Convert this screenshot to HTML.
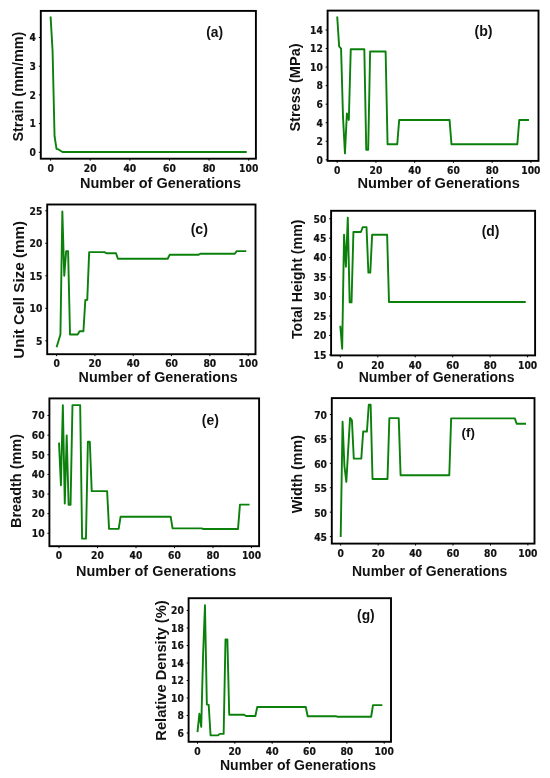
<!DOCTYPE html>
<html lang="en"><head><meta charset="utf-8"><title>Optimization history over generations</title>
<style>
html,body{margin:0;padding:0;background:#fff;}
body{width:550px;height:778px;overflow:hidden;}
svg{display:block;}
.tk{font-family:"DejaVu Sans","Liberation Sans",sans-serif;font-weight:bold;font-size:10.3px;fill:#111;stroke:#111;stroke-width:.2px;}
.lb{font-family:"Liberation Sans",Arial,sans-serif;font-weight:bold;fill:#111;}
.fr{fill:none;stroke:#000;stroke-width:1.9;}
.tm{stroke:#000;stroke-width:1;}
.ln{fill:none;stroke:#0b800b;stroke-width:1.9;stroke-linejoin:round;stroke-linecap:butt;}
</style></head><body>
<svg width="550" height="778" viewBox="0 0 550 778">
<rect x="0" y="0" width="550" height="778" fill="#ffffff"/>
<g id="panel-a">
<polyline class="ln" points="50.6,16.55 52.58,50.99 54.56,136.23 56.54,148.86 58.52,149.43 60.51,150.72 62.49,151.96 246.72,152.07"/>
<rect class="fr" x="40.8" y="10.9" width="215.1" height="147.8"/>
<line class="tm" x1="50.6" y1="158.7" x2="50.6" y2="160.65"/>
<text class="tk" x="47.4" y="171.9" textLength="6.4" lengthAdjust="spacingAndGlyphs">0</text>
<line class="tm" x1="90.22" y1="158.7" x2="90.22" y2="160.65"/>
<text class="tk" x="83.82" y="171.9" textLength="12.8" lengthAdjust="spacingAndGlyphs">20</text>
<line class="tm" x1="129.84" y1="158.7" x2="129.84" y2="160.65"/>
<text class="tk" x="123.44" y="171.9" textLength="12.8" lengthAdjust="spacingAndGlyphs">40</text>
<line class="tm" x1="169.46" y1="158.7" x2="169.46" y2="160.65"/>
<text class="tk" x="163.06" y="171.9" textLength="12.8" lengthAdjust="spacingAndGlyphs">60</text>
<line class="tm" x1="209.08" y1="158.7" x2="209.08" y2="160.65"/>
<text class="tk" x="202.68" y="171.9" textLength="12.8" lengthAdjust="spacingAndGlyphs">80</text>
<line class="tm" x1="248.7" y1="158.7" x2="248.7" y2="160.65"/>
<text class="tk" x="239.1" y="171.9" textLength="19.2" lengthAdjust="spacingAndGlyphs">100</text>
<line class="tm" x1="38.85" y1="152.3" x2="40.8" y2="152.3"/>
<text class="tk" x="29.6" y="156.1" textLength="6.4" lengthAdjust="spacingAndGlyphs">0</text>
<line class="tm" x1="38.85" y1="123.6" x2="40.8" y2="123.6"/>
<text class="tk" x="29.6" y="127.4" textLength="6.4" lengthAdjust="spacingAndGlyphs">1</text>
<line class="tm" x1="38.85" y1="94.9" x2="40.8" y2="94.9"/>
<text class="tk" x="29.6" y="98.7" textLength="6.4" lengthAdjust="spacingAndGlyphs">2</text>
<line class="tm" x1="38.85" y1="66.2" x2="40.8" y2="66.2"/>
<text class="tk" x="29.6" y="70" textLength="6.4" lengthAdjust="spacingAndGlyphs">3</text>
<line class="tm" x1="38.85" y1="37.5" x2="40.8" y2="37.5"/>
<text class="tk" x="29.6" y="41.3" textLength="6.4" lengthAdjust="spacingAndGlyphs">4</text>
<text class="lb" x="80" y="187.5" font-size="14.4" textLength="161" lengthAdjust="spacingAndGlyphs">Number of Generations</text>
<text class="lb" transform="translate(22.9,141.6) rotate(-90)" font-size="14.4" textLength="110" lengthAdjust="spacingAndGlyphs">Strain (mm/mm)</text>
<text class="lb" x="214.7" y="36.7" text-anchor="middle" font-size="13.8">(a)</text>
</g>
<g id="panel-b">
<polyline class="ln" points="337.2,16.49 339.14,46.43 341.07,48.56 343.01,117.16 344.95,153.4 346.88,113.45 348.82,119.94 350.76,49.3 364.32,49.3 366.25,149.7 368.19,149.7 370.13,51.43 385.62,51.43 387.56,144.23 397.25,144.23 399.18,119.94 449.55,119.94 451.48,144.23 517.34,144.23 519.28,119.94 528.96,119.94"/>
<rect class="fr" x="327.6" y="10.6" width="210.9" height="150.3"/>
<line class="tm" x1="337.2" y1="160.9" x2="337.2" y2="162.85"/>
<text class="tk" x="334" y="174.1" textLength="6.4" lengthAdjust="spacingAndGlyphs">0</text>
<line class="tm" x1="375.94" y1="160.9" x2="375.94" y2="162.85"/>
<text class="tk" x="369.54" y="174.1" textLength="12.8" lengthAdjust="spacingAndGlyphs">20</text>
<line class="tm" x1="414.68" y1="160.9" x2="414.68" y2="162.85"/>
<text class="tk" x="408.28" y="174.1" textLength="12.8" lengthAdjust="spacingAndGlyphs">40</text>
<line class="tm" x1="453.42" y1="160.9" x2="453.42" y2="162.85"/>
<text class="tk" x="447.02" y="174.1" textLength="12.8" lengthAdjust="spacingAndGlyphs">60</text>
<line class="tm" x1="492.16" y1="160.9" x2="492.16" y2="162.85"/>
<text class="tk" x="485.76" y="174.1" textLength="12.8" lengthAdjust="spacingAndGlyphs">80</text>
<line class="tm" x1="530.9" y1="160.9" x2="530.9" y2="162.85"/>
<text class="tk" x="521.3" y="174.1" textLength="19.2" lengthAdjust="spacingAndGlyphs">100</text>
<line class="tm" x1="325.65" y1="159.8" x2="327.6" y2="159.8"/>
<text class="tk" x="316.4" y="163.6" textLength="6.4" lengthAdjust="spacingAndGlyphs">0</text>
<line class="tm" x1="325.65" y1="141.26" x2="327.6" y2="141.26"/>
<text class="tk" x="316.4" y="145.06" textLength="6.4" lengthAdjust="spacingAndGlyphs">2</text>
<line class="tm" x1="325.65" y1="122.72" x2="327.6" y2="122.72"/>
<text class="tk" x="316.4" y="126.52" textLength="6.4" lengthAdjust="spacingAndGlyphs">4</text>
<line class="tm" x1="325.65" y1="104.18" x2="327.6" y2="104.18"/>
<text class="tk" x="316.4" y="107.98" textLength="6.4" lengthAdjust="spacingAndGlyphs">6</text>
<line class="tm" x1="325.65" y1="85.64" x2="327.6" y2="85.64"/>
<text class="tk" x="316.4" y="89.44" textLength="6.4" lengthAdjust="spacingAndGlyphs">8</text>
<line class="tm" x1="325.65" y1="67.1" x2="327.6" y2="67.1"/>
<text class="tk" x="310" y="70.9" textLength="12.8" lengthAdjust="spacingAndGlyphs">10</text>
<line class="tm" x1="325.65" y1="48.56" x2="327.6" y2="48.56"/>
<text class="tk" x="310" y="52.36" textLength="12.8" lengthAdjust="spacingAndGlyphs">12</text>
<line class="tm" x1="325.65" y1="30.02" x2="327.6" y2="30.02"/>
<text class="tk" x="310" y="33.82" textLength="12.8" lengthAdjust="spacingAndGlyphs">14</text>
<text class="lb" x="357.45" y="187.5" font-size="14.4" textLength="162.5" lengthAdjust="spacingAndGlyphs">Number of Generations</text>
<text class="lb" transform="translate(299.6,131.6) rotate(-90)" font-size="14.4" textLength="88.2" lengthAdjust="spacingAndGlyphs">Stress (MPa)</text>
<text class="lb" x="483.5" y="35.8" text-anchor="middle" font-size="14.2">(b)</text>
</g>
<g id="panel-c">
<polyline class="ln" points="56.6,347.3 58.52,340.8 60.43,334.5 62.35,211.45 64.26,275.8 66.18,251.1 68.1,251.1 70.01,334.5 77.68,334.5 79.59,331.31 83.42,331.31 85.34,299.85 87.26,299.85 89.17,252.08 104.5,252.08 106.42,253.25 116,253.25 117.91,258.77 167.73,258.77 169.64,254.81 198.38,254.81 200.3,253.7 234.79,253.7 236.7,251.1 246.28,251.1"/>
<rect class="fr" x="47.2" y="204.5" width="208.3" height="149.7"/>
<line class="tm" x1="56.6" y1="354.2" x2="56.6" y2="356.15"/>
<text class="tk" x="53.4" y="367.4" textLength="6.4" lengthAdjust="spacingAndGlyphs">0</text>
<line class="tm" x1="94.92" y1="354.2" x2="94.92" y2="356.15"/>
<text class="tk" x="88.52" y="367.4" textLength="12.8" lengthAdjust="spacingAndGlyphs">20</text>
<line class="tm" x1="133.24" y1="354.2" x2="133.24" y2="356.15"/>
<text class="tk" x="126.84" y="367.4" textLength="12.8" lengthAdjust="spacingAndGlyphs">40</text>
<line class="tm" x1="171.56" y1="354.2" x2="171.56" y2="356.15"/>
<text class="tk" x="165.16" y="367.4" textLength="12.8" lengthAdjust="spacingAndGlyphs">60</text>
<line class="tm" x1="209.88" y1="354.2" x2="209.88" y2="356.15"/>
<text class="tk" x="203.48" y="367.4" textLength="12.8" lengthAdjust="spacingAndGlyphs">80</text>
<line class="tm" x1="248.2" y1="354.2" x2="248.2" y2="356.15"/>
<text class="tk" x="238.6" y="367.4" textLength="19.2" lengthAdjust="spacingAndGlyphs">100</text>
<line class="tm" x1="45.25" y1="340.8" x2="47.2" y2="340.8"/>
<text class="tk" x="36" y="344.6" textLength="6.4" lengthAdjust="spacingAndGlyphs">5</text>
<line class="tm" x1="45.25" y1="308.3" x2="47.2" y2="308.3"/>
<text class="tk" x="29.6" y="312.1" textLength="12.8" lengthAdjust="spacingAndGlyphs">10</text>
<line class="tm" x1="45.25" y1="275.8" x2="47.2" y2="275.8"/>
<text class="tk" x="29.6" y="279.6" textLength="12.8" lengthAdjust="spacingAndGlyphs">15</text>
<line class="tm" x1="45.25" y1="243.3" x2="47.2" y2="243.3"/>
<text class="tk" x="29.6" y="247.1" textLength="12.8" lengthAdjust="spacingAndGlyphs">20</text>
<line class="tm" x1="45.25" y1="210.8" x2="47.2" y2="210.8"/>
<text class="tk" x="29.6" y="214.6" textLength="12.8" lengthAdjust="spacingAndGlyphs">25</text>
<text class="lb" x="78.6" y="382.3" font-size="15.2" textLength="159.2" lengthAdjust="spacingAndGlyphs">Number of Generations</text>
<text class="lb" transform="translate(23.6,358.8) rotate(-90)" font-size="14.4" textLength="138" lengthAdjust="spacingAndGlyphs">Unit Cell Size (mm)</text>
<text class="lb" x="199.3" y="234.2" text-anchor="middle" font-size="14.2">(c)</text>
</g>
<g id="panel-d">
<polyline class="ln" points="340.3,325.73 342.17,348.68 344.05,234.73 345.92,266.81 347.79,217.62 349.67,302.4 351.54,302.4 353.41,232.01 360.9,232.01 362.78,227.11 366.52,227.11 368.39,272.65 370.27,272.65 372.14,234.73 387.12,234.73 389,302.01 525.73,302.01"/>
<rect class="fr" x="331.1" y="210.8" width="204" height="144.6"/>
<line class="tm" x1="340.3" y1="355.4" x2="340.3" y2="357.35"/>
<text class="tk" x="337.1" y="368.6" textLength="6.4" lengthAdjust="spacingAndGlyphs">0</text>
<line class="tm" x1="377.76" y1="355.4" x2="377.76" y2="357.35"/>
<text class="tk" x="371.36" y="368.6" textLength="12.8" lengthAdjust="spacingAndGlyphs">20</text>
<line class="tm" x1="415.22" y1="355.4" x2="415.22" y2="357.35"/>
<text class="tk" x="408.82" y="368.6" textLength="12.8" lengthAdjust="spacingAndGlyphs">40</text>
<line class="tm" x1="452.68" y1="355.4" x2="452.68" y2="357.35"/>
<text class="tk" x="446.28" y="368.6" textLength="12.8" lengthAdjust="spacingAndGlyphs">60</text>
<line class="tm" x1="490.14" y1="355.4" x2="490.14" y2="357.35"/>
<text class="tk" x="483.74" y="368.6" textLength="12.8" lengthAdjust="spacingAndGlyphs">80</text>
<line class="tm" x1="527.6" y1="355.4" x2="527.6" y2="357.35"/>
<text class="tk" x="518" y="368.6" textLength="19.2" lengthAdjust="spacingAndGlyphs">100</text>
<line class="tm" x1="329.15" y1="354.9" x2="331.1" y2="354.9"/>
<text class="tk" x="313.5" y="358.7" textLength="12.8" lengthAdjust="spacingAndGlyphs">15</text>
<line class="tm" x1="329.15" y1="335.45" x2="331.1" y2="335.45"/>
<text class="tk" x="313.5" y="339.25" textLength="12.8" lengthAdjust="spacingAndGlyphs">20</text>
<line class="tm" x1="329.15" y1="316.01" x2="331.1" y2="316.01"/>
<text class="tk" x="313.5" y="319.81" textLength="12.8" lengthAdjust="spacingAndGlyphs">25</text>
<line class="tm" x1="329.15" y1="296.56" x2="331.1" y2="296.56"/>
<text class="tk" x="313.5" y="300.37" textLength="12.8" lengthAdjust="spacingAndGlyphs">30</text>
<line class="tm" x1="329.15" y1="277.12" x2="331.1" y2="277.12"/>
<text class="tk" x="313.5" y="280.92" textLength="12.8" lengthAdjust="spacingAndGlyphs">35</text>
<line class="tm" x1="329.15" y1="257.67" x2="331.1" y2="257.67"/>
<text class="tk" x="313.5" y="261.47" textLength="12.8" lengthAdjust="spacingAndGlyphs">40</text>
<line class="tm" x1="329.15" y1="238.23" x2="331.1" y2="238.23"/>
<text class="tk" x="313.5" y="242.03" textLength="12.8" lengthAdjust="spacingAndGlyphs">45</text>
<line class="tm" x1="329.15" y1="218.78" x2="331.1" y2="218.78"/>
<text class="tk" x="313.5" y="222.59" textLength="12.8" lengthAdjust="spacingAndGlyphs">50</text>
<text class="lb" x="358.7" y="382.3" font-size="14.8" textLength="155.8" lengthAdjust="spacingAndGlyphs">Number of Generations</text>
<text class="lb" transform="translate(301.5,339.1) rotate(-90)" font-size="14.4" textLength="119.6" lengthAdjust="spacingAndGlyphs">Total Height (mm)</text>
<text class="lb" x="490.6" y="236.3" text-anchor="middle" font-size="13.9">(d)</text>
</g>
<g id="panel-e">
<polyline class="ln" points="59,442.61 60.92,485.3 62.85,405.12 64.78,503.46 66.7,435.35 68.62,504.84 70.55,504.84 72.47,405.12 80.17,405.12 82.1,538.66 85.95,538.66 87.88,441.82 89.8,441.82 91.72,491.1 107.12,491.1 109.05,528.9 118.68,528.9 120.6,516.71 170.65,516.71 172.57,528.39 201.45,528.39 203.38,528.98 238.03,528.98 239.95,504.64 249.58,504.64"/>
<rect class="fr" x="49.4" y="398.4" width="209.7" height="147.8"/>
<line class="tm" x1="59" y1="546.2" x2="59" y2="548.15"/>
<text class="tk" x="55.8" y="559.4" textLength="6.4" lengthAdjust="spacingAndGlyphs">0</text>
<line class="tm" x1="97.5" y1="546.2" x2="97.5" y2="548.15"/>
<text class="tk" x="91.1" y="559.4" textLength="12.8" lengthAdjust="spacingAndGlyphs">20</text>
<line class="tm" x1="136" y1="546.2" x2="136" y2="548.15"/>
<text class="tk" x="129.6" y="559.4" textLength="12.8" lengthAdjust="spacingAndGlyphs">40</text>
<line class="tm" x1="174.5" y1="546.2" x2="174.5" y2="548.15"/>
<text class="tk" x="168.1" y="559.4" textLength="12.8" lengthAdjust="spacingAndGlyphs">60</text>
<line class="tm" x1="213" y1="546.2" x2="213" y2="548.15"/>
<text class="tk" x="206.6" y="559.4" textLength="12.8" lengthAdjust="spacingAndGlyphs">80</text>
<line class="tm" x1="251.5" y1="546.2" x2="251.5" y2="548.15"/>
<text class="tk" x="241.9" y="559.4" textLength="19.2" lengthAdjust="spacingAndGlyphs">100</text>
<line class="tm" x1="47.45" y1="533.3" x2="49.4" y2="533.3"/>
<text class="tk" x="31.8" y="537.1" textLength="12.8" lengthAdjust="spacingAndGlyphs">10</text>
<line class="tm" x1="47.45" y1="513.67" x2="49.4" y2="513.67"/>
<text class="tk" x="31.8" y="517.47" textLength="12.8" lengthAdjust="spacingAndGlyphs">20</text>
<line class="tm" x1="47.45" y1="494.04" x2="49.4" y2="494.04"/>
<text class="tk" x="31.8" y="497.84" textLength="12.8" lengthAdjust="spacingAndGlyphs">30</text>
<line class="tm" x1="47.45" y1="474.41" x2="49.4" y2="474.41"/>
<text class="tk" x="31.8" y="478.21" textLength="12.8" lengthAdjust="spacingAndGlyphs">40</text>
<line class="tm" x1="47.45" y1="454.78" x2="49.4" y2="454.78"/>
<text class="tk" x="31.8" y="458.58" textLength="12.8" lengthAdjust="spacingAndGlyphs">50</text>
<line class="tm" x1="47.45" y1="435.15" x2="49.4" y2="435.15"/>
<text class="tk" x="31.8" y="438.95" textLength="12.8" lengthAdjust="spacingAndGlyphs">60</text>
<line class="tm" x1="47.45" y1="415.52" x2="49.4" y2="415.52"/>
<text class="tk" x="31.8" y="419.32" textLength="12.8" lengthAdjust="spacingAndGlyphs">70</text>
<text class="lb" x="76" y="575.6" font-size="14.4" textLength="160.4" lengthAdjust="spacingAndGlyphs">Number of Generations</text>
<text class="lb" transform="translate(21.3,528) rotate(-90)" font-size="14.4" textLength="94" lengthAdjust="spacingAndGlyphs">Breadth (mm)</text>
<text class="lb" x="210.3" y="425" text-anchor="middle" font-size="14.0">(e)</text>
</g>
<g id="panel-f">
<polyline class="ln" points="340.7,537.09 342.57,421.8 344.44,466.26 346.32,481.89 348.19,449.65 350.06,417.89 351.93,420.34 353.8,458.59 361.29,458.59 363.16,431.57 366.91,431.57 368.78,404.8 370.65,404.8 372.52,478.96 387.5,478.96 389.37,418.14 398.73,418.14 400.6,475.29 449.28,475.29 451.15,418.38 514.8,418.38 516.67,423.76 526.03,423.76"/>
<rect class="fr" x="331.8" y="398.1" width="202.7" height="145.5"/>
<line class="tm" x1="340.7" y1="543.6" x2="340.7" y2="545.55"/>
<text class="tk" x="337.5" y="556.8" textLength="6.4" lengthAdjust="spacingAndGlyphs">0</text>
<line class="tm" x1="378.14" y1="543.6" x2="378.14" y2="545.55"/>
<text class="tk" x="371.74" y="556.8" textLength="12.8" lengthAdjust="spacingAndGlyphs">20</text>
<line class="tm" x1="415.58" y1="543.6" x2="415.58" y2="545.55"/>
<text class="tk" x="409.18" y="556.8" textLength="12.8" lengthAdjust="spacingAndGlyphs">40</text>
<line class="tm" x1="453.02" y1="543.6" x2="453.02" y2="545.55"/>
<text class="tk" x="446.62" y="556.8" textLength="12.8" lengthAdjust="spacingAndGlyphs">60</text>
<line class="tm" x1="490.46" y1="543.6" x2="490.46" y2="545.55"/>
<text class="tk" x="484.06" y="556.8" textLength="12.8" lengthAdjust="spacingAndGlyphs">80</text>
<line class="tm" x1="527.9" y1="543.6" x2="527.9" y2="545.55"/>
<text class="tk" x="518.3" y="556.8" textLength="19.2" lengthAdjust="spacingAndGlyphs">100</text>
<line class="tm" x1="329.85" y1="536.6" x2="331.8" y2="536.6"/>
<text class="tk" x="314.2" y="541" textLength="12.8" lengthAdjust="spacingAndGlyphs">45</text>
<line class="tm" x1="329.85" y1="512.18" x2="331.8" y2="512.18"/>
<text class="tk" x="314.2" y="516.58" textLength="12.8" lengthAdjust="spacingAndGlyphs">50</text>
<line class="tm" x1="329.85" y1="487.75" x2="331.8" y2="487.75"/>
<text class="tk" x="314.2" y="492.15" textLength="12.8" lengthAdjust="spacingAndGlyphs">55</text>
<line class="tm" x1="329.85" y1="463.33" x2="331.8" y2="463.33"/>
<text class="tk" x="314.2" y="467.73" textLength="12.8" lengthAdjust="spacingAndGlyphs">60</text>
<line class="tm" x1="329.85" y1="438.9" x2="331.8" y2="438.9"/>
<text class="tk" x="314.2" y="443.3" textLength="12.8" lengthAdjust="spacingAndGlyphs">65</text>
<line class="tm" x1="329.85" y1="414.48" x2="331.8" y2="414.48"/>
<text class="tk" x="314.2" y="418.88" textLength="12.8" lengthAdjust="spacingAndGlyphs">70</text>
<text class="lb" x="352" y="576" font-size="14.4" textLength="155.4" lengthAdjust="spacingAndGlyphs">Number of Generations</text>
<text class="lb" transform="translate(302,513.35) rotate(-90)" font-size="14.4" textLength="78.3" lengthAdjust="spacingAndGlyphs">Width (mm)</text>
<text class="lb" x="468.2" y="437.2" text-anchor="middle" font-size="13.3">(f)</text>
</g>
<g id="panel-g">
<polyline class="ln" points="197.5,732.12 199.37,713.75 201.23,726.88 203.1,654.25 204.97,605.25 206.84,704.39 208.7,705 210.57,735.36 218.04,735.36 219.9,733.88 223.64,733.88 225.5,639.38 227.37,639.38 229.24,714.8 244.18,714.8 246.04,716.02 255.38,716.02 257.24,707.01 305.79,707.01 307.65,716.2 335.66,716.2 337.52,716.73 371.13,716.73 373,705.17 382.33,705.17"/>
<rect class="fr" x="188.6" y="598.2" width="202.4" height="143.6"/>
<line class="tm" x1="197.5" y1="741.8" x2="197.5" y2="743.75"/>
<text class="tk" x="194.3" y="755" textLength="6.4" lengthAdjust="spacingAndGlyphs">0</text>
<line class="tm" x1="234.84" y1="741.8" x2="234.84" y2="743.75"/>
<text class="tk" x="228.44" y="755" textLength="12.8" lengthAdjust="spacingAndGlyphs">20</text>
<line class="tm" x1="272.18" y1="741.8" x2="272.18" y2="743.75"/>
<text class="tk" x="265.78" y="755" textLength="12.8" lengthAdjust="spacingAndGlyphs">40</text>
<line class="tm" x1="309.52" y1="741.8" x2="309.52" y2="743.75"/>
<text class="tk" x="303.12" y="755" textLength="12.8" lengthAdjust="spacingAndGlyphs">60</text>
<line class="tm" x1="346.86" y1="741.8" x2="346.86" y2="743.75"/>
<text class="tk" x="340.46" y="755" textLength="12.8" lengthAdjust="spacingAndGlyphs">80</text>
<line class="tm" x1="384.2" y1="741.8" x2="384.2" y2="743.75"/>
<text class="tk" x="374.6" y="755" textLength="19.2" lengthAdjust="spacingAndGlyphs">100</text>
<line class="tm" x1="186.65" y1="733" x2="188.6" y2="733"/>
<text class="tk" x="177.4" y="736.8" textLength="6.4" lengthAdjust="spacingAndGlyphs">6</text>
<line class="tm" x1="186.65" y1="715.5" x2="188.6" y2="715.5"/>
<text class="tk" x="177.4" y="719.3" textLength="6.4" lengthAdjust="spacingAndGlyphs">8</text>
<line class="tm" x1="186.65" y1="698" x2="188.6" y2="698"/>
<text class="tk" x="171" y="701.8" textLength="12.8" lengthAdjust="spacingAndGlyphs">10</text>
<line class="tm" x1="186.65" y1="680.5" x2="188.6" y2="680.5"/>
<text class="tk" x="171" y="684.3" textLength="12.8" lengthAdjust="spacingAndGlyphs">12</text>
<line class="tm" x1="186.65" y1="663" x2="188.6" y2="663"/>
<text class="tk" x="171" y="666.8" textLength="12.8" lengthAdjust="spacingAndGlyphs">14</text>
<line class="tm" x1="186.65" y1="645.5" x2="188.6" y2="645.5"/>
<text class="tk" x="171" y="649.3" textLength="12.8" lengthAdjust="spacingAndGlyphs">16</text>
<line class="tm" x1="186.65" y1="628" x2="188.6" y2="628"/>
<text class="tk" x="171" y="631.8" textLength="12.8" lengthAdjust="spacingAndGlyphs">18</text>
<line class="tm" x1="186.65" y1="610.5" x2="188.6" y2="610.5"/>
<text class="tk" x="171" y="614.3" textLength="12.8" lengthAdjust="spacingAndGlyphs">20</text>
<text class="lb" x="219.9" y="769.6" font-size="14.4" textLength="156.2" lengthAdjust="spacingAndGlyphs">Number of Generations</text>
<text class="lb" transform="translate(165.7,740.65) rotate(-90)" font-size="14.4" textLength="140.3" lengthAdjust="spacingAndGlyphs">Relative Density (%)</text>
<text class="lb" x="365.9" y="619.8" text-anchor="middle" font-size="13.8">(g)</text>
</g>
</svg></body></html>
